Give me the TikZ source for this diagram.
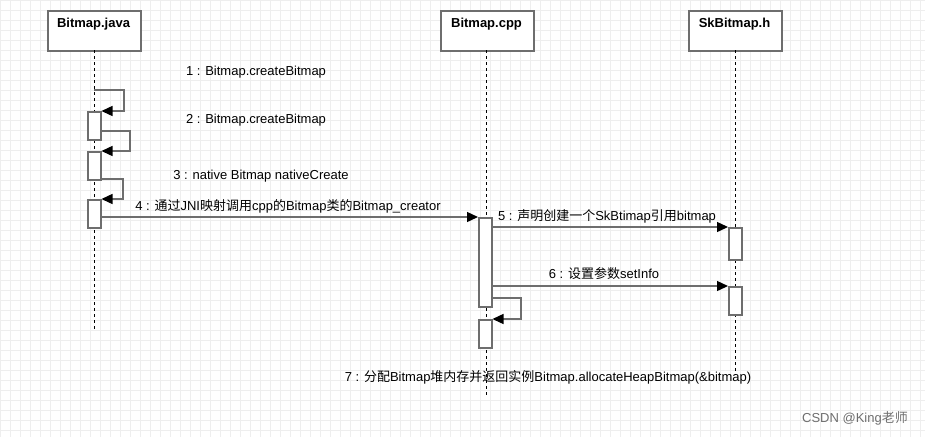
\documentclass[tikz,border=0pt]{standalone}
\usepackage{fontspec}
\setmainfont{Liberation Sans}
\newfontfamily\cjk{Noto Sans CJK SC}
\newcommand{\zh}[1]{{\cjk #1}}
\usetikzlibrary{arrows.meta}
\definecolor{linegray}{RGB}{110,110,110}
\definecolor{gridgray}{RGB}{238,238,238}

\begin{document}
\begin{tikzpicture}[x=1pt, y=-1pt,
  participant/.style = {rectangle, draw=linegray, line width=1.5pt, fill=white, minimum width=93pt, minimum height=40pt, anchor=north west, inner sep=0pt},
  activation/.style = {rectangle, draw=linegray, line width=1.5pt, fill=white, minimum width=13pt, anchor=north west, inner sep=0pt},
  lifeline/.style = {dashed, line width=0.9pt, dash pattern=on 3pt off 3pt},
  message/.style = {draw=linegray, line width=1.4pt, -{Triangle[length=11pt, width=10pt, fill=black, color=black]}},
  label/.style = {font=\fontsize{13}{15}\selectfont},
  header/.style = {font=\bfseries\fontsize{13}{15}\selectfont},
  font=\fontsize{13}{15}\selectfont]
  \useasboundingbox (0,0) rectangle (925,437);
  % Background grid.
  \draw [gridgray, xstep=10pt, ystep=10pt] (0pt,0pt) grid (925pt,-437pt);

  % Participants.
  \node at (47, 10) [participant, name=BitmapJava] {};
  \node at (440, 10) [participant, name=BitmapCpp] {};
  \node at (688, 10) [participant, name=SkBitmap] {};
  \node at (93.5, 24) [header, name=BitmapJavaText] {Bitmap.java};
  \node at (486.5, 24) [header, name=BitmapCppText] {Bitmap.cpp};
  \node at (734.5, 24) [header, name=SkBitmapText] {SkBitmap.h};

  % Lifelines.
  \coordinate (javaEnd) at (94, 330);
  \coordinate (cppEnd) at (486, 395);
  \coordinate (skEnd) at (735, 375);
  \draw [lifeline] (94, 50) -- (javaEnd);
  \draw [lifeline] (486, 50) -- (cppEnd);
  \draw [lifeline] (735, 50) -- (skEnd);

  % Activations.
  \node at (87, 111) [activation, minimum height=28pt, name=ActJavaA] {};
  \node at (87, 151) [activation, minimum height=28pt, name=ActJavaB] {};
  \node at (87, 199) [activation, minimum height=28pt, name=ActJavaC] {};
  \node at (478, 217) [activation, minimum height=89pt, name=ActCppA] {};
  \node at (478, 319) [activation, minimum height=28pt, name=ActCppB] {};
  \node at (728, 227) [activation, minimum height=32pt, name=ActSkA] {};
  \node at (728, 286) [activation, minimum height=28pt, name=ActSkB] {};

  % Self calls.
  \coordinate (loopA) at (94, 90);
  \draw [message] (loopA) -- (124, 90) -- (124, 111) -- (ActJavaA.north east);
  \draw [message] (ActJavaA.east |- 0,131) -- (130, 131) -- (130, 151) -- (ActJavaB.north east);
  \draw [message] (ActJavaB.east |- 0,179) -- (123, 179) -- (123, 199) -- (ActJavaC.north east);
  \draw [message] (ActCppA.east |- 0,298) -- (521, 298) -- (521, 319) -- (ActCppB.north east);

  % Calls.
  \draw [message] (ActJavaC.east |- ActCppA.north) -- (ActCppA.north west);
  \draw [message] (ActCppA.east |- ActSkA.north) -- (ActSkA.north west);
  \draw [message] (ActCppA.east |- ActSkB.north) -- (ActSkB.north west);

  % Labels.
  \node at (256, 72) [label, name=LabelA] {1 : Bitmap.createBitmap};
  \node at (256, 120) [label, name=LabelB] {2 : Bitmap.createBitmap};
  \node at (261, 176) [label, name=LabelC] {3 : native Bitmap nativeCreate};
  \node at (288, 206) [label, name=LabelD] {4 : \zh{通过}JNI\zh{映射调用}cpp\zh{的}Bitmap\zh{类的}Bitmap\_creator};
  \node at (607, 216) [label, name=LabelE] {5 : \zh{声明创建一个}SkBtimap\zh{引用}bitmap};
  \node at (604, 274) [label, name=LabelF] {6 : \zh{设置参数}setInfo};
  \node at (548, 377) [label, name=LabelG] {7 : \zh{分配}Bitmap\zh{堆内存并返回实例}Bitmap.allocateHeapBitmap(\&bitmap)};

  % Watermark.
  \node at (855, 418) [label, text=linegray, name=Watermark] {CSDN @King\zh{老师}};
\end{tikzpicture}
\end{document}
